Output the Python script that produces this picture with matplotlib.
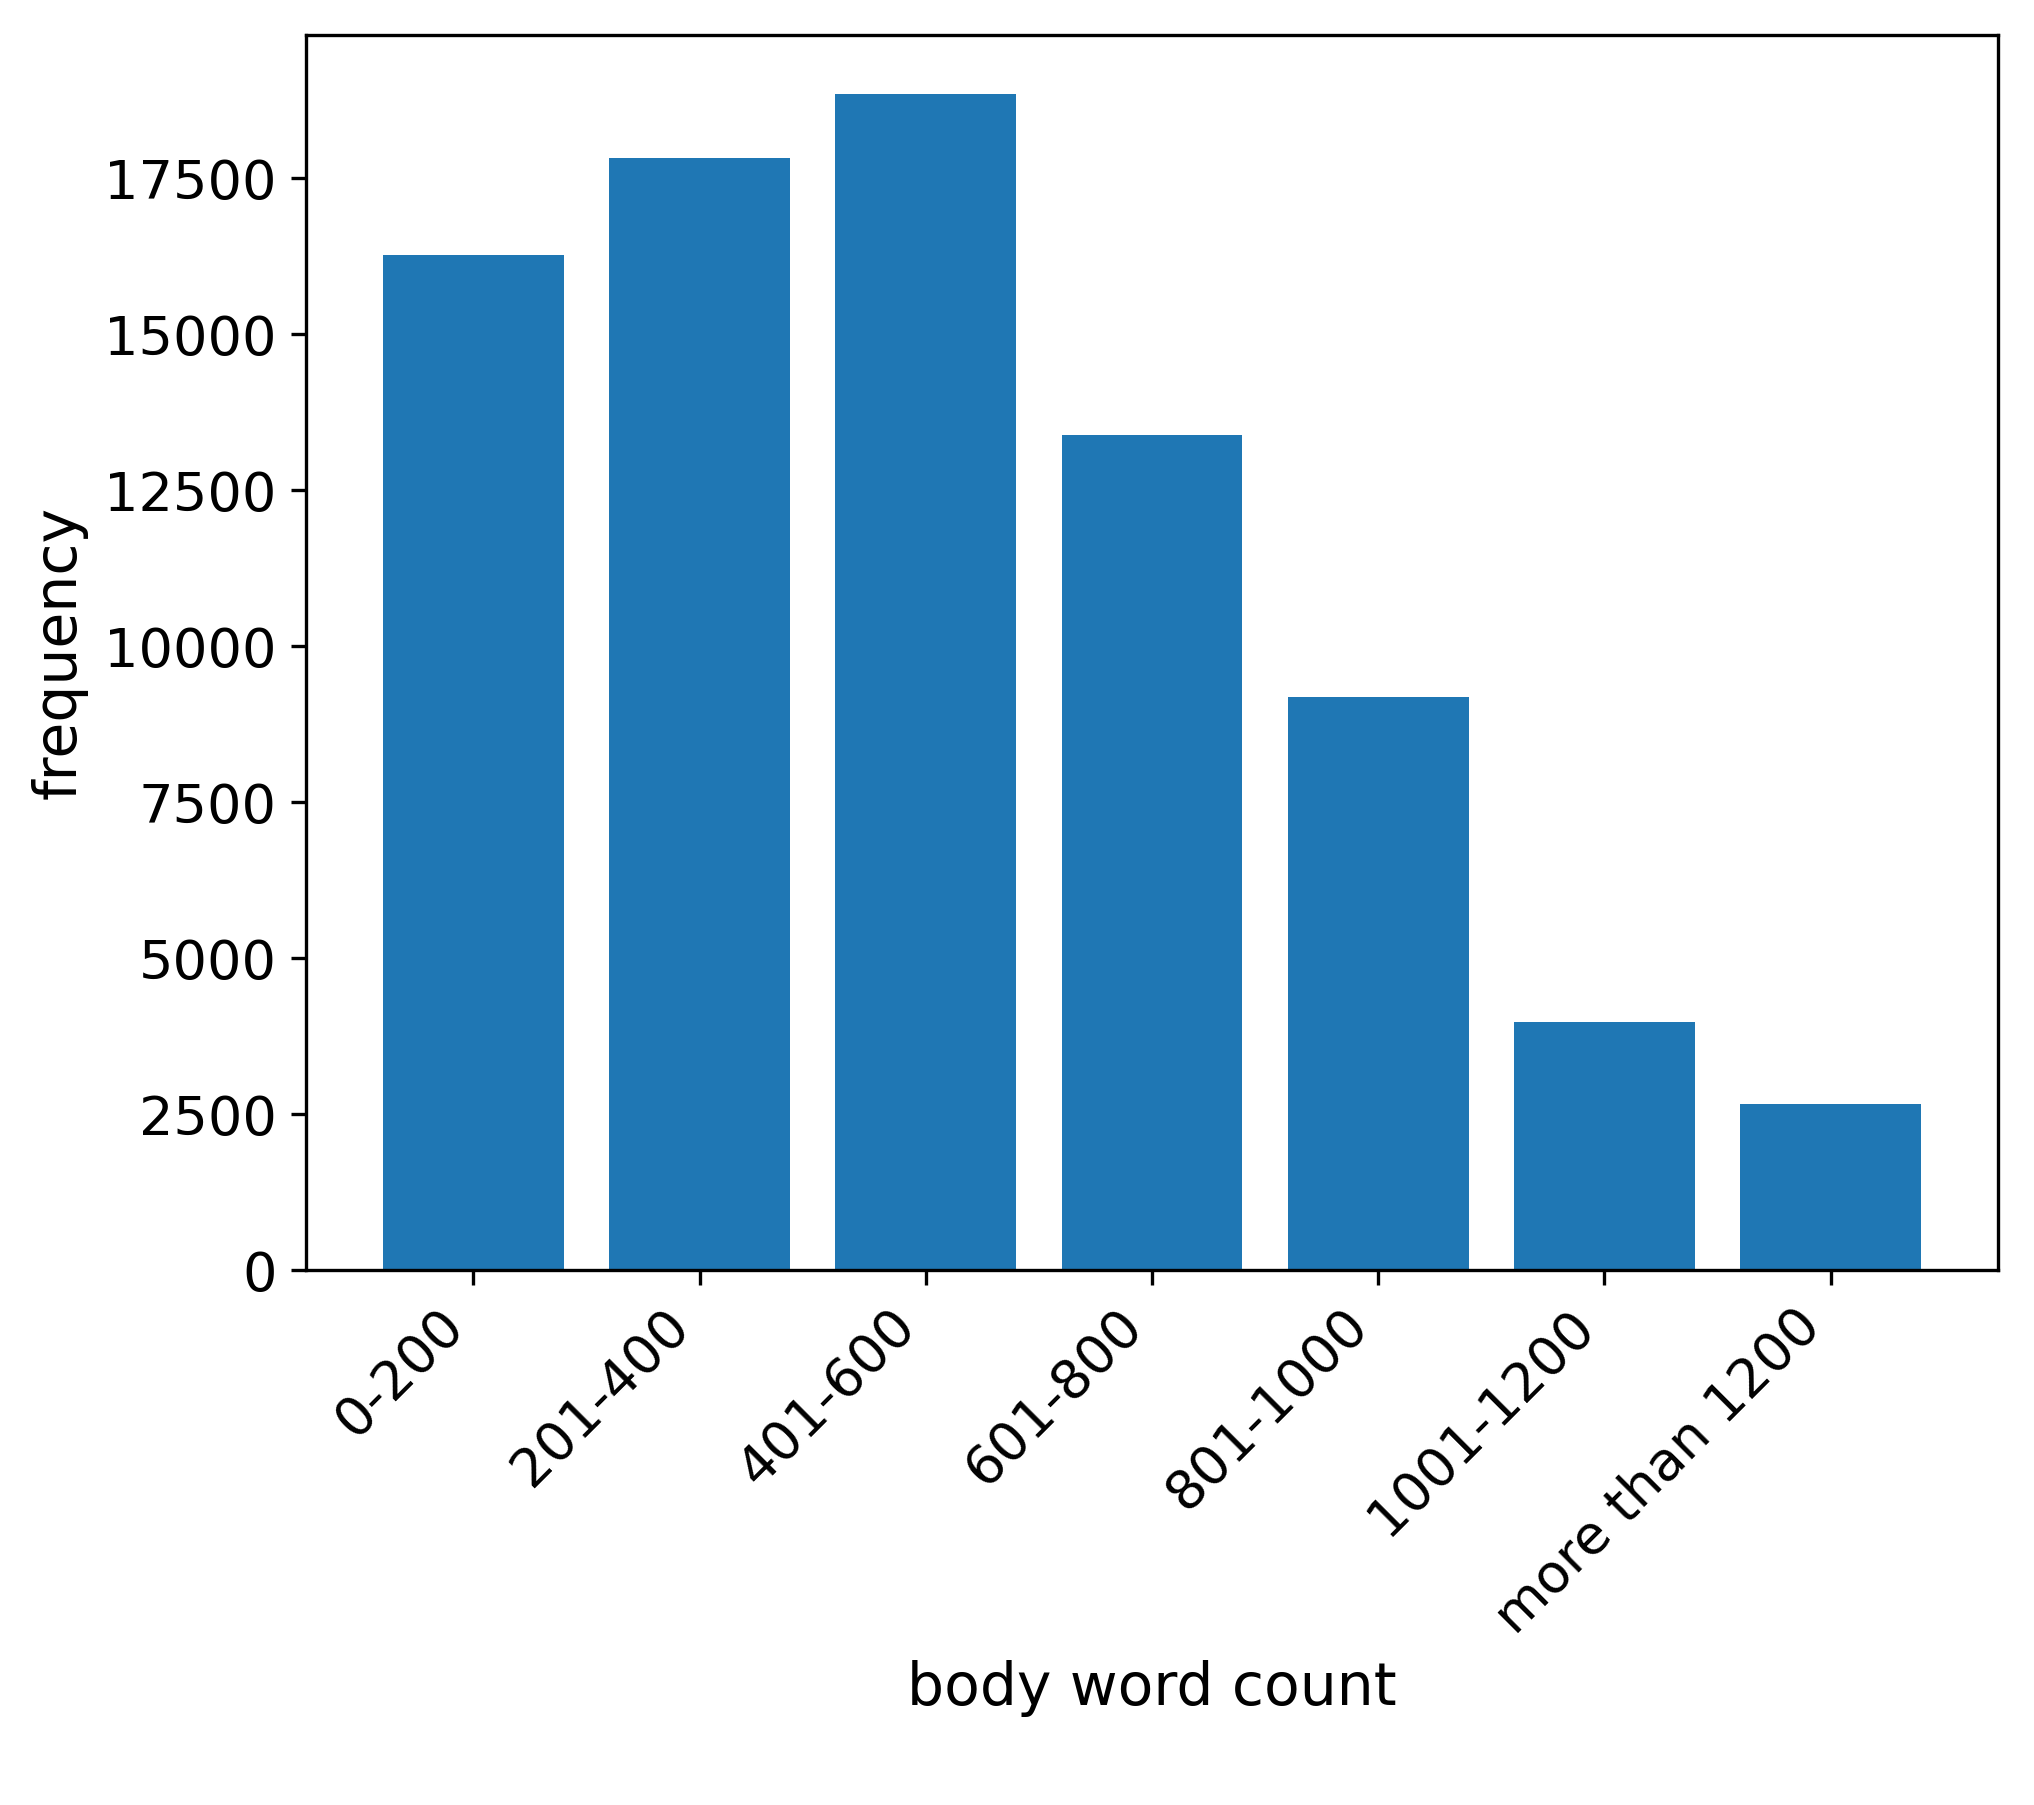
import matplotlib
matplotlib.use("Agg")
import matplotlib.pyplot as plt

categories = ["0-200", "201-400", "401-600", "601-800", "801-1000", "1001-1200", "more than 1200"]
frequency = [16270, 17820, 18850, 13380, 9180, 3970, 2660]

W, H, DPI = 2034, 1805, 300
fig = plt.figure(figsize=(W / DPI, H / DPI), dpi=DPI)
ax = fig.add_axes([306 / W, 1 - 1270 / H, (1998 - 306) / W, (1270 - 35) / H])

ax.bar(categories, frequency, color="#1f77b4")
ax.set_xlabel("body word count", fontsize=14)
ax.set_ylabel("frequency", fontsize=14)
ax.tick_params(labelsize=13)
plt.setp(ax.get_xticklabels(), rotation=45, ha="right", rotation_mode="default")

fig.savefig("out.png", dpi=DPI)
